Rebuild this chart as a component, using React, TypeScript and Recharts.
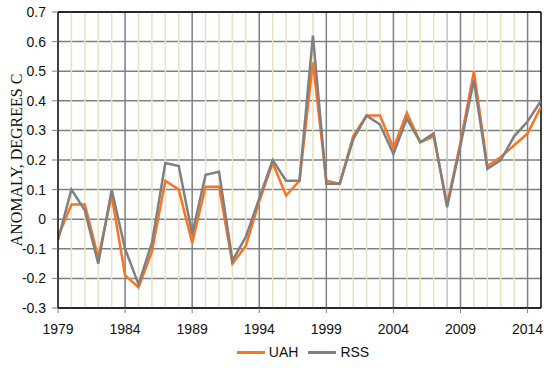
import { LineChart, Line, XAxis, YAxis, CartesianGrid, ReferenceLine } from 'recharts';

const years = [
  1979, 1980, 1981, 1982, 1983, 1984, 1985, 1986, 1987, 1988,
  1989, 1990, 1991, 1992, 1993, 1994, 1995, 1996, 1997, 1998,
  1999, 2000, 2001, 2002, 2003, 2004, 2005, 2006, 2007, 2008,
  2009, 2010, 2011, 2012, 2013, 2014, 2015,
];

const uah = [
  -0.06, 0.05, 0.05, -0.13, 0.08, -0.19, -0.23, -0.11, 0.13, 0.1,
  -0.08, 0.11, 0.11, -0.15, -0.09, 0.06, 0.19, 0.08, 0.13, 0.53,
  0.13, 0.12, 0.28, 0.35, 0.35, 0.24, 0.36, 0.26, 0.28, 0.05,
  0.26, 0.5, 0.18, 0.21, 0.25, 0.29, 0.38,
];

const rss = [
  -0.07, 0.1, 0.03, -0.15, 0.1, -0.1, -0.22, -0.08, 0.19, 0.18,
  -0.05, 0.15, 0.16, -0.14, -0.06, 0.07, 0.2, 0.13, 0.13, 0.62,
  0.12, 0.12, 0.27, 0.35, 0.32, 0.22, 0.34, 0.26, 0.29, 0.04,
  0.25, 0.47, 0.17, 0.2, 0.28, 0.33, 0.4,
];

const xTicks = [1979, 1984, 1989, 1994, 1999, 2004, 2009, 2014];
const yTicks = [-0.3, -0.2, -0.1, 0, 0.1, 0.2, 0.3, 0.4, 0.5, 0.6, 0.7];
const paleYears = [2008];

const data = years.map((year, i) => ({ year, UAH: uah[i], RSS: rss[i] }));

const ORANGE = '#ff7320';
const GRAY = '#808080';
const MINOR = '#e6e2c3';
const tickFont = { fontFamily: '"Liberation Sans", Arial, sans-serif', fontSize: 14, fill: '#111' };

const legendItems = [
  { name: 'UAH', color: ORANGE },
  { name: 'RSS', color: GRAY },
];

function gridColor(y: number) {
  if (paleYears.includes(y)) return '#c0c0c0';
  if (xTicks.includes(y)) return GRAY;
  return MINOR;
}

export default function App() {
  return (
    <div style={{ position: 'absolute', left: 0, top: 0, width: 558, height: 368, background: '#fff' }}>
      <LineChart width={558} height={368} data={data} margin={{ top: 12, right: 17, bottom: 30, left: 0 }}>
        <CartesianGrid vertical={false} stroke={GRAY} strokeWidth={1.5} />
        {years.filter((y) => y > 1979 && y < 2015).map((y) => (
          <ReferenceLine key={y} x={y} stroke={gridColor(y)} strokeWidth={1.5} />
        ))}
        <XAxis
          dataKey="year"
          type="number"
          domain={[1979, 2015]}
          ticks={xTicks}
          allowDataOverflow
          height={30}
          tick={tickFont}
          tickSize={5}
          tickMargin={11}
          axisLine={{ stroke: '#000', strokeWidth: 1.5 }}
          tickLine={{ stroke: GRAY }}
        />
        <YAxis
          type="number"
          domain={[-0.3, 0.7]}
          ticks={yTicks}
          width={58}
          tick={tickFont}
          tickSize={6}
          tickMargin={6}
          tickFormatter={(v: number) => String(Math.round(v * 10) / 10)}
          axisLine={{ stroke: '#000', strokeWidth: 1.5 }}
          tickLine={{ stroke: GRAY }}
          label={{
            value: 'ANOMALY, DEGREES C',
            angle: -90,
            position: 'insideLeft',
            offset: 16,
            style: { fontFamily: '"Liberation Serif", "Times New Roman", serif', fontSize: 16, fill: '#111', textAnchor: 'middle' },
          }}
        />
        <ReferenceLine y={0.7} stroke="#000" strokeWidth={1.5} />
        <ReferenceLine x={2015} stroke="#000" strokeWidth={1.5} />
        <Line dataKey="UAH" stroke={ORANGE} strokeWidth={2.5} dot={false} isAnimationActive={false} />
        <Line dataKey="RSS" stroke={GRAY} strokeWidth={2.5} dot={false} isAnimationActive={false} />
      </LineChart>
      <div
        style={{
          position: 'absolute',
          top: 344,
          left: 58,
          width: 490,
          display: 'flex',
          justifyContent: 'center',
          alignItems: 'center',
          gap: 10,
          fontFamily: '"Liberation Sans", Arial, sans-serif',
          fontSize: 14,
          color: '#111',
        }}
      >
        {legendItems.map((it) => (
          <div key={it.name} style={{ display: 'flex', alignItems: 'center' }}>
            <span style={{ display: 'inline-block', width: 28, height: 3, background: it.color, marginRight: 4 }} />
            <span>{it.name}</span>
          </div>
        ))}
      </div>
    </div>
  );
}
